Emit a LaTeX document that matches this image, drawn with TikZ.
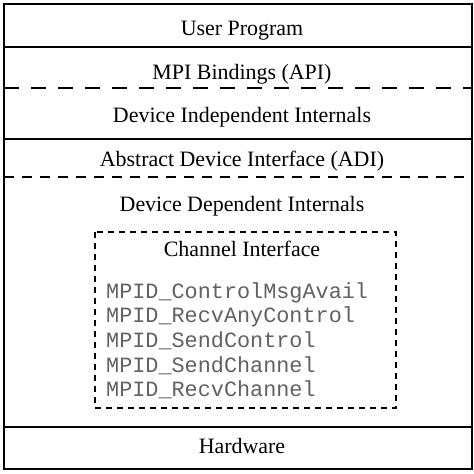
\documentclass[tikz,border=0pt]{standalone}
\usepackage{fontspec}
\setmainfont{Liberation Serif}
\setmonofont{Liberation Mono}
\begin{document}
\begin{tikzpicture}[x=1bp,y=-1bp,
  lbl/.style={font=\fontsize{22}{25}\selectfont, inner sep=0pt, anchor=base},
  code/.style={font=\ttfamily\fontsize{21.9}{24.7}\selectfont, text=black!62, inner sep=0pt, anchor=base west},
  sep/.style={line width=1.4pt},
  dsep/.style={line width=1.4pt, dash pattern=on 15bp off 12bp},
  dsepb/.style={line width=1.4pt, dash pattern=on 10bp off 8bp},
  ibox/.style={line width=1.2pt, dash pattern=on 6bp off 5bp}]
\useasboundingbox (0,0) rectangle (474,474);
\draw[line width=1.6pt] (4,4) rectangle (472,469);
\coordinate (l1a) at (4,47); \coordinate (l1b) at (472,47);
\coordinate (l2a) at (4,88); \coordinate (l2b) at (472,88);
\coordinate (l3a) at (4,139); \coordinate (l3b) at (472,139);
\coordinate (l4a) at (4,177); \coordinate (l4b) at (472,177);
\coordinate (l5a) at (4,427); \coordinate (l5b) at (472,427);
\draw[sep] (l1a) -- (l1b);
\draw[dsep] (l2a) -- (l2b);
\draw[sep] (l3a) -- (l3b);
\draw[dsepb] (l4a) -- (l4b);
\draw[sep] (l5a) -- (l5b);
\draw[ibox] (95,232) rectangle (396,408);
\node[lbl] (up) at (242,36) {User Program};
\node[lbl] (mpi) at (242,80) {MPI Bindings (API)};
\node[lbl] (dii) at (242,123) {Device Independent Internals};
\node[lbl] (adi) at (242,167) {Abstract Device Interface (ADI)};
\node[lbl] (ddi) at (242,212) {Device Dependent Internals};
\node[lbl] (ci) at (242,256) {Channel Interface};
\node[code] (c1) at (106,298) {MPID\_ControlMsgAvail};
\node[code] (c2) at (106,322.7) {MPID\_RecvAnyControl};
\node[code] (c3) at (106,347.4) {MPID\_SendControl};
\node[code] (c4) at (106,372.1) {MPID\_SendChannel};
\node[code] (c5) at (106,396.8) {MPID\_RecvChannel};
\node[lbl] (hw) at (242,453) {Hardware};
\end{tikzpicture}
\end{document}
